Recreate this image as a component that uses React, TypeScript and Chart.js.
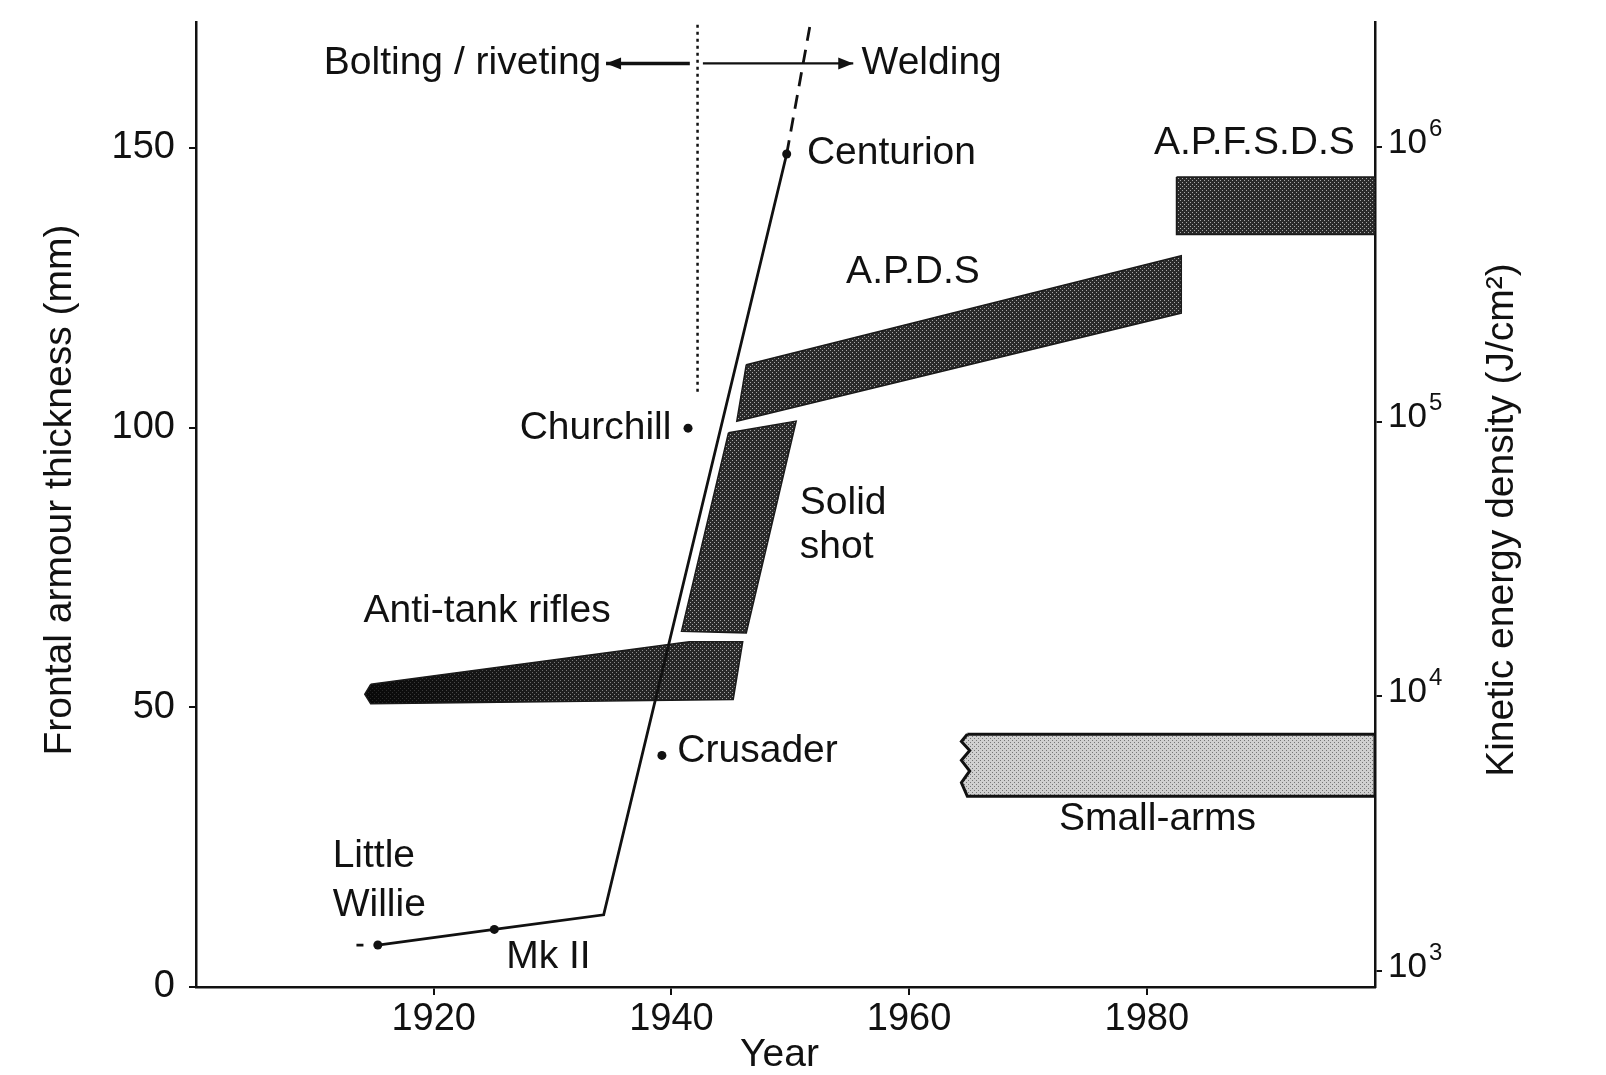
import React, { useEffect, useRef } from "react";
import { Chart, registerables } from "chart.js";

Chart.register(...registerables);

const FONT = '"Liberation Sans", Arial, Helvetica, sans-serif';
const INK = "#111";

// British tank frontal armour (left axis, mm)
const tankYears = [1913.5, 1915.3, 1925.1, 1934.3, 1949.7, 1951.7];
const tankArmour = [7.5, 7.5, 10.3, 12.9, 148.9, 172.3];
const tankMarked = [0, 1, 1, 0, 1, 0];

const otherTankYears = [1941.4, 1939.2]; // Churchill, Crusader
const otherTankArmour = [99.9, 41.4];

// bolting / welding divide
const joinYears = [1942.2, 1942.2];
const joinArmour = [106.4, 172.4];
const arrowArmour = 165.1;
const boltingArrowYears = [1941.55, 1934.5];
const weldingArrowYears = [1942.65, 1955.3];

// projectile bands (right axis, J/cm2), outlines in drawing order
const antiTankYears = [1914.7, 1941.5, 1946.0, 1945.2, 1914.7, 1914.2];
const antiTankEnergy = [11060, 15790, 15790, 9745, 9389, 10170];
const solidShotYears = [1944.8, 1950.5, 1946.3, 1940.85];
const solidShotEnergy = [91000, 100400, 17020, 17260];
const apdsYears = [1946.3, 1982.9, 1982.9, 1945.5];
const apdsEnergy = [161100, 401500, 248400, 100250];
const apfsdsYears = [1982.5, 1999.2, 1999.2, 1982.5];
const apfsdsEnergy = [777000, 777000, 479700, 479700];
const smallArmsYears = [1964.9, 1999.2, 1999.2, 1964.9, 1964.4, 1965.1, 1964.4, 1965.1, 1964.4];
const smallArmsEnergy = [7277, 7277, 4329, 4329, 4850, 5350, 5850, 6350, 6850];

// axes
const yearTicks = [1920, 1940, 1960, 1980];
const armourTicks = [0, 50, 100, 150];
const energyExponents = [3, 4, 5, 6];

// text on the plot
const noteText = ["Bolting / riveting", "Welding", "Centurion", "A.P.F.S.D.S", "A.P.D.S", "Churchill", "Solid", "shot", "Anti-tank rifles", "Crusader", "Little", "Willie", "Mk II", "Small-arms"];
const noteYear = [1934.1, 1956.0, 1951.4, 1997.5, 1954.7, 1940.0, 1950.8, 1950.8, 1914.1, 1940.5, 1911.5, 1911.5, 1926.1, 1980.9];
const noteArmour = [165.2, 165.2, 149, 150.9, 127.7, 99.9, 86.5, 78.6, 67.1, 42.1, 23.3, 14.7, 5.4, 29.9];
const noteAlign = ["right", "left", "left", "right", "left", "right", "left", "left", "left", "left", "left", "left", "left", "center"];

const pts = (xs: number[], ys: number[]) => xs.map((x, i) => ({ x, y: ys[i] }));
const closed = (xs: number[], ys: number[]) => {
  const p = pts(xs, ys);
  return [...p, p[0]];
};

function tone(ctx: CanvasRenderingContext2D, bg: string, dot: string) {
  const c = document.createElement("canvas");
  c.width = 4;
  c.height = 4;
  const g = c.getContext("2d")!;
  g.fillStyle = bg;
  g.fillRect(0, 0, 4, 4);
  g.fillStyle = dot;
  g.fillRect(0, 0, 1, 1);
  g.fillRect(2, 2, 1, 1);
  return ctx.createPattern(c, "repeat")!;
}

const App: React.FC = () => {
  const canvasRef = useRef<HTMLCanvasElement>(null);
  const chartRef = useRef<Chart | null>(null);

  useEffect(() => {
    if (chartRef.current) chartRef.current.destroy();
    const ctx = canvasRef.current!.getContext("2d")!;

    const patterns: Record<string, CanvasPattern> = {
      dark: tone(ctx, "#2a2a2a", "#a8a8a8"),
      light: tone(ctx, "#d0d0d0", "#767676"),
    };

    const plotPlugin = {
      id: "plotExtras",
      beforeDatasetDraw(chart: any, args: any) {
        const ds = chart.data.datasets[args.index];
        if (!ds.tone) return;
        const p = args.meta.data;
        const c = chart.ctx;
        const a = chart.chartArea;
        c.save();
        c.beginPath();
        c.rect(a.left, a.top, a.right - a.left, a.bottom - a.top);
        c.clip();
        c.beginPath();
        p.forEach((el: any, i: number) => (i ? c.lineTo(el.x, el.y) : c.moveTo(el.x, el.y)));
        c.closePath();
        c.fillStyle = patterns[ds.tone];
        c.fill();
        if (ds.darkLeft) {
          const xs = p.map((el: any) => el.x);
          const x0 = Math.min(...xs);
          const x1 = Math.max(...xs);
          const gr = c.createLinearGradient(x0, 0, x1, 0);
          gr.addColorStop(0, "rgba(0,0,0,0.8)");
          gr.addColorStop(0.55, "rgba(0,0,0,0.25)");
          gr.addColorStop(1, "rgba(0,0,0,0)");
          c.fillStyle = gr;
          c.fill();
        }
        c.restore();
      },
      afterDatasetsDraw(chart: any) {
        const c = chart.ctx;
        chart.data.datasets.forEach((ds: any, i: number) => {
          if (!ds.arrow) return;
          const p = chart.getDatasetMeta(i).data;
          const tip = p[p.length - 1];
          const prev = p[p.length - 2];
          const ang = Math.atan2(tip.y - prev.y, tip.x - prev.x);
          c.save();
          c.translate(tip.x, tip.y);
          c.rotate(ang);
          c.beginPath();
          c.moveTo(0, 0);
          c.lineTo(-15, -6);
          c.lineTo(-15, 6);
          c.closePath();
          c.fillStyle = INK;
          c.fill();
          c.restore();
        });
      },
      afterDraw(chart: any) {
        const c = chart.ctx;
        const xs = chart.scales.x;
        const ys = chart.scales.y;
        const es = chart.scales.y1;
        c.save();
        c.fillStyle = INK;
        c.textBaseline = "middle";
        c.font = `39px ${FONT}`;
        noteText.forEach((t, i) => {
          c.textAlign = noteAlign[i] as CanvasTextAlign;
          c.fillText(t, xs.getPixelForValue(noteYear[i]), ys.getPixelForValue(noteArmour[i]));
        });

        // right axis labels 10^n
        c.textAlign = "left";
        energyExponents.forEach((e) => {
          const y = es.getPixelForValue(Math.pow(10, e));
          const x = es.left + 13;
          c.font = `35px ${FONT}`;
          c.fillText("10", x, y - 4);
          const w = c.measureText("10").width;
          c.font = `24px ${FONT}`;
          c.fillText(String(e), x + w + 2, y - 18);
        });

        // axis titles
        c.font = `39px ${FONT}`;
        c.textAlign = "center";
        c.textBaseline = "alphabetic";
        c.fillText("Year", (xs.left + xs.right) / 2 - 6, 1066);
        c.textBaseline = "middle";
        c.save();
        c.translate(60, 490);
        c.rotate(-Math.PI / 2);
        c.fillText("Frontal armour thickness (mm)", 0, 0);
        c.restore();
        c.save();
        c.translate(1502, 520);
        c.rotate(-Math.PI / 2);
        c.fillText("Kinetic energy density (J/cm²)", 0, 0);
        c.restore();
        c.restore();
      },
    };

    const line = {
      borderColor: INK,
      borderWidth: 2.8,
      pointRadius: 0,
      showLine: true,
      yAxisID: "y",
    };
    const band = (xs: number[], ys: number[], t: string, extra: any = {}) => ({
      data: closed(xs, ys),
      borderColor: "#1a1a1a",
      borderWidth: 1.5,
      pointRadius: 0,
      showLine: true,
      yAxisID: "y1",
      tone: t,
      ...extra,
    });

    chartRef.current = new Chart(ctx, {
      type: "line",
      data: {
        datasets: [
          {
            ...line,
            label: "Tank frontal armour",
            data: pts(tankYears, tankArmour),
            pointRadius: tankMarked.map((m) => (m ? 4.5 : 0)),
            pointBackgroundColor: INK,
            pointBorderWidth: 0,
            segment: {
              borderDash: (s: any) =>
                s.p0DataIndex === 0 ? [7, 14] : s.p1DataIndex === tankYears.length - 1 ? [14, 9] : undefined,
            },
          },
          {
            ...line,
            label: "Other tanks",
            data: pts(otherTankYears, otherTankArmour),
            showLine: false,
            pointRadius: 4.5,
            pointBackgroundColor: INK,
            pointBorderWidth: 0,
          },
          { ...line, label: "Join", data: pts(joinYears, joinArmour), borderDash: [3, 4], borderWidth: 2.5 },
          { ...line, label: "Bolting", arrow: true, data: pts(boltingArrowYears, boltingArrowYears.map(() => arrowArmour)), borderWidth: 3.5 },
          { ...line, label: "Welding", arrow: true, data: pts(weldingArrowYears, weldingArrowYears.map(() => arrowArmour)), borderWidth: 2.2 },
          band(antiTankYears, antiTankEnergy, "dark", { label: "Anti-tank rifles", darkLeft: true }),
          band(solidShotYears, solidShotEnergy, "dark", { label: "Solid shot" }),
          band(apdsYears, apdsEnergy, "dark", { label: "A.P.D.S" }),
          band(apfsdsYears, apfsdsEnergy, "dark", { label: "A.P.F.S.D.S" }),
          band(smallArmsYears, smallArmsEnergy, "light", { label: "Small-arms", borderWidth: 3, borderColor: INK }),
        ] as any,
      },
      options: {
        animation: false,
        responsive: true,
        maintainAspectRatio: false,
        layout: { padding: { top: 22, left: 0, right: 0, bottom: 0 } },
        plugins: { legend: { display: false }, tooltip: { enabled: false } },
        scales: {
          x: {
            type: "linear",
            min: 1900,
            max: 1999.2,
            afterBuildTicks: (s: any) => {
              s.ticks = yearTicks.map((value) => ({ value }));
            },
            afterFit: (s: any) => {
              s.height = 88;
              s.paddingLeft = 0;
              s.paddingRight = 0;
            },
            grid: { drawOnChartArea: false, drawTicks: true, tickLength: 8, color: INK, lineWidth: 2 },
            border: { display: true, color: INK, width: 2.5 },
            ticks: { color: INK, font: { family: FONT, size: 38 }, padding: 2, maxRotation: 0, callback: (v: any) => String(v) },
          },
          y: {
            type: "linear",
            position: "left",
            min: 0,
            max: 172.5,
            afterBuildTicks: (s: any) => {
              s.ticks = armourTicks.map((value) => ({ value }));
            },
            afterFit: (s: any) => {
              s.width = 196;
              s.paddingTop = 0;
              s.paddingBottom = 0;
            },
            grid: { drawOnChartArea: false, drawTicks: true, tickLength: 7, color: INK, lineWidth: 2 },
            border: { display: true, color: INK, width: 2.5 },
            ticks: { color: INK, font: { family: FONT, size: 38 }, padding: 14, callback: (v: any) => String(v) },
          },
          y1: {
            type: "logarithmic",
            position: "right",
            min: 875,
            max: 2.848e6,
            afterBuildTicks: (s: any) => {
              s.ticks = energyExponents.map((e) => ({ value: Math.pow(10, e) }));
            },
            afterFit: (s: any) => {
              s.width = 231;
              s.paddingTop = 0;
              s.paddingBottom = 0;
            },
            grid: { drawOnChartArea: false, drawTicks: true, tickLength: 7, color: INK, lineWidth: 2 },
            border: { display: true, color: INK, width: 2.5 },
            ticks: { display: false },
          },
        },
      },
      plugins: [plotPlugin],
    } as any);

    return () => {
      if (chartRef.current) {
        chartRef.current.destroy();
        chartRef.current = null;
      }
    };
  }, []);

  return (
    <div style={{ position: "fixed", left: 0, top: 0, width: 1606, height: 1075, background: "#fff" }}>
      <canvas ref={canvasRef} />
    </div>
  );
};

export default App;
